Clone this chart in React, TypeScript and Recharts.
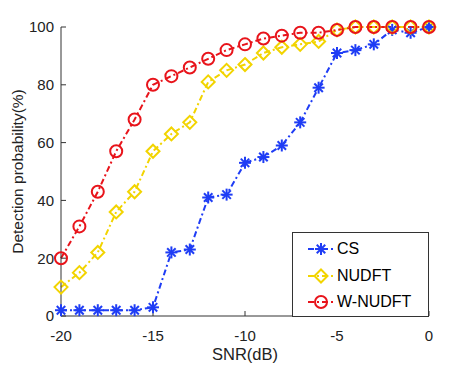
import React from 'react';
import { LineChart, Line, XAxis, YAxis } from 'recharts';

const snr = [-20, -19, -18, -17, -16, -15, -14, -13, -12, -11, -10, -9, -8, -7, -6, -5, -4, -3, -2, -1, 0];
const cs = [2, 2, 2, 2, 2, 3, 22, 23, 41, 42, 53, 55, 59, 67, 79, 91, 92, 94, 99, 98, 100];
const nudft = [10, 15, 22, 36, 43, 57, 63, 67, 81, 85, 87, 91, 93, 94, 95, 99, 100, 100, 100, 100, 100];
const wnudft = [20, 31, 43, 57, 68, 80, 83, 86, 89, 92, 94, 96, 97, 98, 98, 99, 100, 100, 100, 100, 100];
const xTicks = [-20, -15, -10, -5, 0];
const yTicks = [0, 20, 40, 60, 80, 100];

const data = snr.map((s, i) => ({ snr: s, cs: cs[i], nudft: nudft[i], wnudft: wnudft[i] }));

const BLUE = '#1f3df5';
const YELLOW = '#f2d400';
const RED = '#e8141b';
const FONT = '"Liberation Sans", Arial, sans-serif';

const Star = ({ cx, cy, color }: any) => {
  const r = 6;
  const d = r * 0.707;
  return (
    <g stroke={color} strokeWidth={2} fill="none">
      <line x1={cx - r} y1={cy} x2={cx + r} y2={cy} />
      <line x1={cx} y1={cy - r} x2={cx} y2={cy + r} />
      <line x1={cx - d} y1={cy - d} x2={cx + d} y2={cy + d} />
      <line x1={cx - d} y1={cy + d} x2={cx + d} y2={cy - d} />
    </g>
  );
};

const Diamond = ({ cx, cy, color }: any) => {
  const r = 6.5;
  return (
    <path
      d={`M${cx},${cy - r}L${cx + r},${cy}L${cx},${cy + r}L${cx - r},${cy}Z`}
      stroke={color}
      strokeWidth={2}
      fill="none"
    />
  );
};

const Circle = ({ cx, cy, color }: any) => (
  <circle cx={cx} cy={cy} r={6} stroke={color} strokeWidth={2} fill="none" />
);

const series = [
  { key: 'cs', name: 'CS', color: BLUE, Marker: Star },
  { key: 'nudft', name: 'NUDFT', color: YELLOW, Marker: Diamond },
  { key: 'wnudft', name: 'W-NUDFT', color: RED, Marker: Circle },
];

const LegendBox = () => (
  <div
    style={{
      position: 'absolute',
      left: 292,
      top: 232,
      width: 137,
      height: 85,
      border: '1px solid #333',
      background: '#fff',
      boxSizing: 'border-box',
      fontFamily: FONT,
      fontSize: 16,
      color: '#000',
    }}
  >
    {series.map((s, i) => (
      <div key={s.key} style={{ position: 'absolute', left: 14, top: 6 + i * 26.5, height: 20, display: 'flex', alignItems: 'center' }}>
        <svg width={28} height={20}>
          <line x1={1} y1={10} x2={27} y2={10} stroke={s.color} strokeWidth={2} strokeDasharray="6 3 2 3" />
          <s.Marker cx={14} cy={10} color={s.color} />
        </svg>
        <span style={{ marginLeft: 2 }}>{s.name}</span>
      </div>
    ))}
  </div>
);

const tickStyle = { fontSize: 15, fill: '#222', fontFamily: FONT };

export default function App() {
  return (
    <div style={{ position: 'absolute', left: 0, top: 0, width: 474, height: 366, background: '#fff' }}>
      <LineChart width={474} height={366} data={data} margin={{ top: 27, right: 45, bottom: 5, left: 5 }}>
        <XAxis
          dataKey="snr"
          type="number"
          domain={[-20, 0]}
          ticks={xTicks}
          tickSize={-5}
          tickMargin={19}
          height={45}
          stroke="#333"
          tick={tickStyle}
          label={{ value: 'SNR(dB)', position: 'insideBottom', offset: 1, style: { fontSize: 16.5, fill: '#222', fontFamily: FONT } }}
        />
        <XAxis
          xAxisId="top"
          dataKey="snr"
          type="number"
          orientation="top"
          domain={[-20, 0]}
          ticks={xTicks}
          tickSize={-5}
          height={0}
          stroke="#333"
          tick={() => <g />}
        />
        <YAxis
          type="number"
          domain={[0, 100]}
          ticks={yTicks}
          tickSize={-5}
          tickMargin={12}
          width={56}
          stroke="#333"
          tick={tickStyle}
          label={{
            value: 'Detection probability(%)',
            angle: -90,
            position: 'insideLeft',
            offset: 12,
            style: { textAnchor: 'middle', fontSize: 15.5, fill: '#222', fontFamily: FONT },
          }}
        />
        <YAxis
          yAxisId="right"
          orientation="right"
          type="number"
          domain={[0, 100]}
          ticks={yTicks}
          tickSize={-5}
          width={0}
          stroke="#333"
          tick={() => <g />}
        />
        {series.map((s) => (
          <Line
            key={s.key}
            dataKey={s.key}
            name={s.name}
            stroke={s.color}
            strokeWidth={2}
            strokeDasharray="6 3 2 3"
            isAnimationActive={false}
            dot={(p: any) => <s.Marker key={`${s.key}-${p.index}`} cx={p.cx} cy={p.cy} color={s.color} />}
            activeDot={false}
          />
        ))}
      </LineChart>
      <LegendBox />
    </div>
  );
}
